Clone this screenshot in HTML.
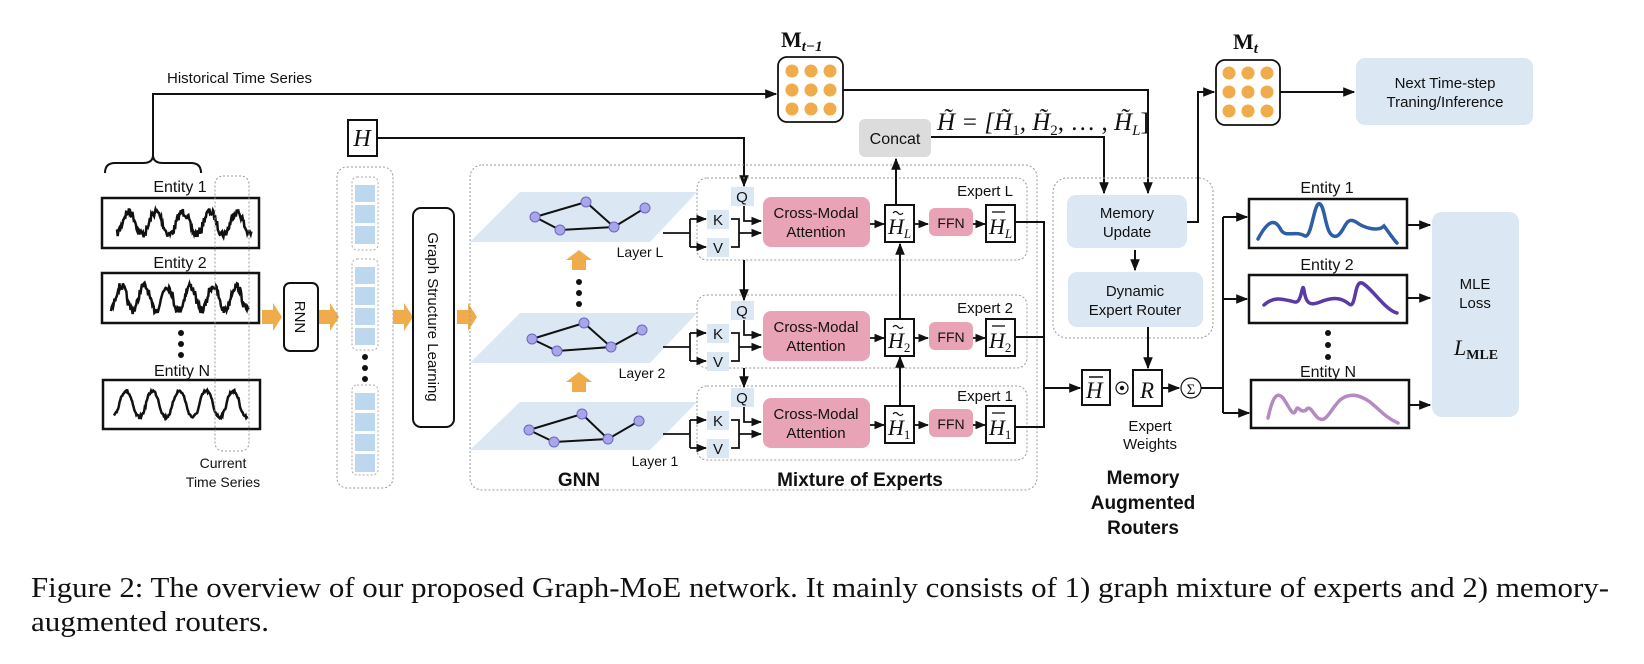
<!DOCTYPE html>
<html><head><meta charset="utf-8">
<style>
html,body{margin:0;padding:0;background:#fff;}
svg{display:block;}
text{font-family:"Liberation Sans","DejaVu Sans",sans-serif;fill:#111;}
.m{font-family:"Liberation Serif","DejaVu Serif",serif;font-style:italic;}
.b{font-weight:bold;}
</style></head><body>
<svg width="1644" height="664" viewBox="0 0 1644 664" xmlns="http://www.w3.org/2000/svg">
<defs>
<marker id="a" viewBox="0 0 10 10" refX="9" refY="5" markerWidth="6" markerHeight="6" orient="auto"><path d="M0,1 L10,5 L0,9 z" fill="#111"/></marker>
<g id="oarr"><path d="M0,-7 L11,-7 L11,-14 L20,0 L11,14 L11,7 L0,7 z" fill="#f0ab4a"/></g>
<g id="uarr"><path d="M-7,10 L-7,0 L-13,0 L0,-10 L13,0 L7,0 L7,10 z" fill="#f0ab4a"/></g>
<g id="dots9" fill="#f0ab4a">
<circle cx="14" cy="14" r="6.5"/><circle cx="33" cy="14" r="6.5"/><circle cx="52" cy="14" r="6.5"/>
<circle cx="14" cy="33" r="6.5"/><circle cx="33" cy="33" r="6.5"/><circle cx="52" cy="33" r="6.5"/>
<circle cx="14" cy="52" r="6.5"/><circle cx="33" cy="52" r="6.5"/><circle cx="52" cy="52" r="6.5"/>
</g>
</defs>

<g fill="none" stroke="#111" stroke-width="2">
<path d="M153,155 L153,94 L776,94" marker-end="url(#a)"/>
<path d="M105,173 Q105,163 115,163 L143,163 Q153,163 153,155 Q153,163 163,163 L191,163 Q201,163 201,173"/>
<path d="M377,138 L744,138 L744,186" marker-end="url(#a)"/>
<path d="M843,90 L1148,90 L1148,193" marker-end="url(#a)"/>
<path d="M931,137 L1104,137 L1104,193" marker-end="url(#a)"/>
<path d="M1187,222 L1198,222 L1198,92 L1214,92" marker-end="url(#a)"/>
<path d="M1280,92 L1354,92" marker-end="url(#a)"/>
<path d="M1135,250 L1135,270" marker-end="url(#a)"/>
<path d="M1148,327 L1148,368" marker-end="url(#a)"/>
</g>

<text x="167" y="83" font-size="15">Historical Time Series</text>

<text x="180" y="192" font-size="16" text-anchor="middle">Entity 1</text>
<rect x="102" y="198" width="157" height="50" fill="none" stroke="#111" stroke-width="2.5"/>
<text x="180" y="268" font-size="16" text-anchor="middle">Entity 2</text>
<rect x="102" y="273" width="157" height="50" fill="none" stroke="#111" stroke-width="2.5"/>
<g fill="#111"><circle cx="181" cy="333" r="3"/><circle cx="181" cy="344" r="3"/><circle cx="181" cy="355" r="3"/></g>
<text x="182" y="376" font-size="16" text-anchor="middle">Entity N</text>
<rect x="103" y="380" width="157" height="49" fill="none" stroke="#111" stroke-width="2.5"/>
<path id="w1" d="" fill="none" stroke="#111" stroke-width="2.5"/>
<path id="w2" d="" fill="none" stroke="#111" stroke-width="2.5"/>
<path id="w3" d="" fill="none" stroke="#111" stroke-width="2.5"/>
<rect x="215" y="176" width="34" height="275" rx="8" fill="none" stroke="#999" stroke-width="1" stroke-dasharray="2,2"/>
<text x="223" y="468" font-size="14" text-anchor="middle">Current</text>
<text x="223" y="487" font-size="14" text-anchor="middle">Time Series</text>

<use href="#oarr" x="262" y="317"/>
<rect x="284" y="283" width="34" height="68" rx="6" fill="#fff" stroke="#111" stroke-width="2"/>
<text transform="translate(295,317) rotate(90)" font-size="15" text-anchor="middle">RNN</text>
<use href="#oarr" x="319" y="317"/>

<rect x="348" y="120" width="29" height="36" fill="#fff" stroke="#111" stroke-width="2"/>
<text x="362" y="146" font-size="24" class="m" text-anchor="middle">H</text>

<rect x="337" y="167" width="56" height="321" rx="10" fill="none" stroke="#999" stroke-width="1" stroke-dasharray="2,2"/>
<rect x="352" y="177" width="26" height="73" rx="5" fill="none" stroke="#aaa" stroke-width="1" stroke-dasharray="2,2"/>
<rect x="352" y="259" width="26" height="91" rx="5" fill="none" stroke="#aaa" stroke-width="1" stroke-dasharray="2,2"/>
<rect x="352" y="385" width="26" height="90" rx="5" fill="none" stroke="#aaa" stroke-width="1" stroke-dasharray="2,2"/>
<g fill="#bdd7ee">
<rect x="355" y="185" width="20" height="17"/><rect x="355" y="205" width="20" height="18"/><rect x="355" y="226" width="20" height="18"/>
<rect x="355" y="267" width="20" height="17"/><rect x="355" y="287" width="20" height="18"/><rect x="355" y="308" width="20" height="17"/><rect x="355" y="328" width="20" height="17"/>
<rect x="355" y="393" width="20" height="17"/><rect x="355" y="413" width="20" height="18"/><rect x="355" y="434" width="20" height="17"/><rect x="355" y="454" width="20" height="18"/>
</g>
<g fill="#111"><circle cx="365" cy="357" r="3"/><circle cx="365" cy="368" r="3"/><circle cx="365" cy="379" r="3"/></g>

<use href="#oarr" x="393" y="317"/>
<rect x="413" y="208" width="41" height="219" rx="8" fill="#fff" stroke="#111" stroke-width="2"/>
<text transform="translate(428,317) rotate(90)" font-size="15" text-anchor="middle">Graph Structure Learning</text>
<use href="#oarr" x="457" y="317"/>

<rect x="470" y="165" width="567" height="325" rx="12" fill="none" stroke="#999" stroke-width="1" stroke-dasharray="2,2"/>

<g fill="#dbe7f3">
<path d="M470,242 L650,242 L697,192 L520,192 z"/>
<path d="M470,363 L650,363 L697,313 L520,313 z"/>
<path d="M470,450 L650,450 L697,402 L520,402 z"/>
</g>
<g stroke="#111" stroke-width="2" fill="none">
<path d="M535,217 L586,202 L614,227 L560,230 z M614,227 L645,208"/>
<path d="M532,339 L584,323 L611,347 L557,351 z M611,347 L642,330"/>
<path d="M529,430 L582,414 L608,439 L554,442 z M608,439 L639,421"/>
</g>
<g fill="#a9a6e8" stroke="#6b67c4" stroke-width="1">
<circle cx="535" cy="217" r="5"/><circle cx="586" cy="202" r="5"/><circle cx="560" cy="230" r="5"/><circle cx="614" cy="227" r="5"/><circle cx="645" cy="208" r="5"/>
<circle cx="532" cy="339" r="5"/><circle cx="584" cy="323" r="5"/><circle cx="557" cy="351" r="5"/><circle cx="611" cy="347" r="5"/><circle cx="642" cy="330" r="5"/>
<circle cx="529" cy="430" r="5"/><circle cx="582" cy="414" r="5"/><circle cx="554" cy="442" r="5"/><circle cx="608" cy="439" r="5"/><circle cx="639" cy="421" r="5"/>
</g>
<text x="640" y="257" font-size="14" text-anchor="middle">Layer L</text>
<text x="642" y="378" font-size="14" text-anchor="middle">Layer 2</text>
<text x="655" y="466" font-size="14" text-anchor="middle">Layer 1</text>
<use href="#uarr" x="579" y="260"/>
<use href="#uarr" x="579" y="382"/>
<g fill="#111"><circle cx="579" cy="282" r="3"/><circle cx="579" cy="293" r="3"/><circle cx="579" cy="304" r="3"/></g>
<text x="579" y="486" font-size="19" class="b" text-anchor="middle">GNN</text>
<text x="860" y="486" font-size="19" class="b" text-anchor="middle">Mixture of Experts</text>

<g fill="none" stroke="#999" stroke-width="1" stroke-dasharray="2,2">
<rect x="697" y="178" width="330" height="82" rx="10"/>
<rect x="697" y="295" width="330" height="73" rx="10"/>
<rect x="697" y="386" width="330" height="74" rx="10"/>
</g>
<text x="1013" y="196" font-size="15" text-anchor="end">Expert L</text>
<text x="1013" y="313" font-size="15" text-anchor="end">Expert 2</text>
<text x="1013" y="401" font-size="15" text-anchor="end">Expert 1</text>

<g id="row">
<rect x="731" y="187" width="23" height="19" fill="#dbe7f3"/>
<text x="742" y="202" font-size="15" text-anchor="middle">Q</text>
<rect x="707" y="210" width="22" height="19" fill="#dbe7f3"/>
<text x="718" y="225" font-size="15" text-anchor="middle">K</text>
<rect x="707" y="238" width="22" height="19" fill="#dbe7f3"/>
<text x="718" y="253" font-size="15" text-anchor="middle">V</text>
<g fill="none" stroke="#111" stroke-width="1.8">
<path d="M663,233 L690,233"/>
<path d="M690,219 L690,247"/>
<path d="M690,219 L706,219" marker-end="url(#a)"/>
<path d="M690,247 L706,247" marker-end="url(#a)"/>
<path d="M731,219 L739,219 L739,247 L731,247"/>
<path d="M739,233 L761,233" marker-end="url(#a)"/>
<path d="M744,206 L744,221 L761,221" marker-end="url(#a)"/>
<path d="M870,224 L884,224" marker-end="url(#a)"/>
<path d="M914,224 L928,224" marker-end="url(#a)"/>
<path d="M973,224 L985,224" marker-end="url(#a)"/>
</g>
<rect x="763" y="197" width="107" height="50" rx="8" fill="#e9a3b7"/>
<text x="816" y="218" font-size="15" text-anchor="middle">Cross-Modal</text>
<text x="816" y="237" font-size="15" text-anchor="middle">Attention</text>
<rect x="929" y="208" width="44" height="28" rx="6" fill="#e9a3b7"/>
<text x="951" y="228" font-size="14" text-anchor="middle">FFN</text>
<rect x="885" y="205" width="29" height="37" fill="#fff" stroke="#111" stroke-width="2"/>
<rect x="986" y="205" width="29" height="37" fill="#fff" stroke="#111" stroke-width="2"/>
</g>
<use href="#row" y="114"/>
<use href="#row" y="201"/>
<g font-size="22" class="m">
<text x="888" y="234" class="m">H<tspan font-size="13" dy="4">L</tspan></text>
<text x="888" y="348" class="m">H<tspan font-size="13" dy="4" font-style="normal">2</tspan></text>
<text x="888" y="435" class="m">H<tspan font-size="13" dy="4" font-style="normal">1</tspan></text>
<text x="989" y="234" class="m">H<tspan font-size="13" dy="4">L</tspan></text>
<text x="989" y="348" class="m">H<tspan font-size="13" dy="4" font-style="normal">2</tspan></text>
<text x="989" y="435" class="m">H<tspan font-size="13" dy="4" font-style="normal">1</tspan></text>
</g>
<g stroke="#111" stroke-width="1.3" fill="none">
<path d="M893,213 q2.5,-3 5,0 t5,0"/><path d="M893,327 q2.5,-3 5,0 t5,0"/><path d="M893,414 q2.5,-3 5,0 t5,0"/>
<path d="M992,212 h13"/><path d="M992,326 h13"/><path d="M992,413 h13"/>
</g>
<g fill="none" stroke="#111" stroke-width="2">
<path d="M744,260 L744,300" marker-end="url(#a)"/>
<path d="M744,368 L744,387" marker-end="url(#a)"/>
<path d="M900,406 L900,357" marker-end="url(#a)"/>
<path d="M900,318 L900,244" marker-end="url(#a)"/>
<path d="M896,205 L896,159" marker-end="url(#a)"/>
<path d="M1015,222 L1044,222 L1044,427 L1015,427 M1015,337 L1044,337"/>
<path d="M1044,388 L1080,388" marker-end="url(#a)"/>
</g>

<rect x="778" y="57" width="65" height="65" rx="9" fill="#fff" stroke="#111" stroke-width="1.8"/>
<use href="#dots9" x="778" y="57"/>
<text x="781" y="47" font-size="22" class="b" style="font-family:'Liberation Serif',serif">M<tspan font-size="15" class="m" dy="4">t−1</tspan></text>

<rect x="859" y="119" width="72" height="38" rx="6" fill="#dcdcdc"/>
<text x="895" y="144" font-size="16" text-anchor="middle">Concat</text>
<text x="937" y="130" font-size="25" class="m">H̃ = [H̃<tspan font-size="15" dy="5" font-style="normal">1</tspan><tspan dy="-5">, H̃</tspan><tspan font-size="15" dy="5" font-style="normal">2</tspan><tspan dy="-5" font-style="normal">, … , </tspan><tspan>H̃</tspan><tspan font-size="15" dy="5">L</tspan><tspan dy="-5" font-style="normal">]</tspan></text>

<rect x="1053" y="178" width="160" height="160" rx="14" fill="none" stroke="#999" stroke-width="1" stroke-dasharray="2,2"/>
<rect x="1067" y="195" width="120" height="53" rx="9" fill="#dbe7f3"/>
<text x="1127" y="218" font-size="15" text-anchor="middle">Memory</text>
<text x="1127" y="237" font-size="15" text-anchor="middle">Update</text>
<rect x="1068" y="272" width="135" height="55" rx="9" fill="#dbe7f3"/>
<text x="1135" y="296" font-size="15" text-anchor="middle">Dynamic</text>
<text x="1135" y="315" font-size="15" text-anchor="middle">Expert Router</text>

<rect x="1082" y="370" width="28" height="35" fill="#fff" stroke="#111" stroke-width="2"/>
<text x="1086" y="398" font-size="23" class="m">H</text>
<path d="M1089,377 h14" stroke="#111" stroke-width="1.5"/>
<circle cx="1122" cy="388" r="6" fill="none" stroke="#111" stroke-width="1.2"/><circle cx="1122" cy="388" r="2.2" fill="#111"/>
<rect x="1133" y="370" width="29" height="36" fill="#fff" stroke="#111" stroke-width="2"/>
<text x="1147" y="398" font-size="23" class="m" text-anchor="middle">R</text>
<path d="M1162,388 L1179,388" stroke="#111" stroke-width="2" marker-end="url(#a)"/>
<circle cx="1191" cy="388" r="10" fill="#fff" stroke="#111" stroke-width="1.2"/>
<text x="1191" y="394" font-size="15" text-anchor="middle" style="font-family:'Liberation Serif',serif">Σ</text>
<text x="1150" y="431" font-size="15" text-anchor="middle">Expert</text>
<text x="1150" y="449" font-size="15" text-anchor="middle">Weights</text>
<text x="1143" y="484" font-size="19" class="b" text-anchor="middle">Memory</text>
<text x="1143" y="509" font-size="19" class="b" text-anchor="middle">Augmented</text>
<text x="1143" y="534" font-size="19" class="b" text-anchor="middle">Routers</text>

<g fill="none" stroke="#111" stroke-width="2">
<path d="M1201,388 L1223,388 M1223,217 L1223,413"/>
<path d="M1223,217 L1247,217" marker-end="url(#a)"/>
<path d="M1223,299 L1247,299" marker-end="url(#a)"/>
<path d="M1223,413 L1249,413" marker-end="url(#a)"/>
<path d="M1407,225 L1430,225" marker-end="url(#a)"/>
<path d="M1407,298 L1430,298" marker-end="url(#a)"/>
<path d="M1409,405 L1430,405" marker-end="url(#a)"/>
</g>

<rect x="1216" y="60" width="64" height="65" rx="9" fill="#fff" stroke="#111" stroke-width="1.8"/>
<use href="#dots9" x="1215" y="59"/>
<text x="1233" y="49" font-size="22" class="b" style="font-family:'Liberation Serif',serif">M<tspan font-size="15" class="m" dy="4">t</tspan></text>
<rect x="1356" y="58" width="177" height="67" rx="9" fill="#dbe7f3"/>
<text x="1445" y="88" font-size="15" text-anchor="middle">Next Time-step</text>
<text x="1445" y="107" font-size="15" text-anchor="middle">Traning/Inference</text>

<text x="1327" y="193" font-size="16" text-anchor="middle">Entity 1</text>
<rect x="1249" y="199" width="158" height="49" fill="none" stroke="#111" stroke-width="2.5"/>
<path d="M1258,239 C1268,220 1275,218 1281,230 C1286,238 1295,230 1305,236 C1312,238 1314,200 1320,204 C1326,208 1325,240 1337,236 C1345,232 1345,215 1356,222 C1364,228 1378,232 1384,226 C1390,234 1394,240 1397,243" fill="none" stroke="#2d5ea6" stroke-width="3.5" stroke-linecap="round"/>
<text x="1327" y="270" font-size="16" text-anchor="middle">Entity 2</text>
<rect x="1249" y="275" width="158" height="48" fill="none" stroke="#111" stroke-width="2.5"/>
<path d="M1264,305 C1275,295 1285,300 1295,302 C1302,304 1302,280 1304,290 C1306,304 1310,306 1320,302 C1330,298 1340,296 1349,304 C1356,310 1354,280 1362,283 C1372,288 1385,310 1397,313" fill="none" stroke="#5a3aa6" stroke-width="3.5" stroke-linecap="round"/>
<g fill="#111"><circle cx="1328" cy="333" r="3"/><circle cx="1328" cy="345" r="3"/><circle cx="1328" cy="357" r="3"/></g>
<text x="1328" y="377" font-size="16" text-anchor="middle">Entity N</text>
<rect x="1251" y="380" width="158" height="48" fill="none" stroke="#111" stroke-width="2.5"/>
<path d="M1268,418 C1272,400 1276,390 1283,398 C1290,408 1293,418 1296,410 C1298,404 1300,414 1306,410 C1310,404 1313,414 1318,418 C1326,424 1330,410 1340,400 C1350,392 1360,395 1370,402 C1380,410 1386,418 1398,423" fill="none" stroke="#b58ac0" stroke-width="3.5" stroke-linecap="round"/>

<rect x="1432" y="212" width="87" height="205" rx="10" fill="#dbe7f3"/>
<text x="1475" y="289" font-size="15" text-anchor="middle">MLE</text>
<text x="1475" y="308" font-size="15" text-anchor="middle">Loss</text>
<text x="1454" y="355" font-size="22" class="m">L<tspan font-size="14" font-style="normal" font-weight="bold" dy="4">MLE</tspan></text>

<text x="31" y="597" font-size="28" style="font-family:'Liberation Serif',serif" textLength="1578" lengthAdjust="spacingAndGlyphs">Figure 2: The overview of our proposed Graph-MoE network. It mainly consists of 1) graph mixture of experts and 2) memory-</text>
<text x="31" y="631" font-size="28" style="font-family:'Liberation Serif',serif" textLength="238" lengthAdjust="spacingAndGlyphs">augmented routers.</text>
</svg>
<script>
(function(){
 var s=7;function r(){s=(s*16807)%2147483647;return s/2147483647-0.5;}
 function w(id,x0,x1,cy,amp,per,noise){
  var d='';for(var x=x0;x<=x1;x+=0.7){
   var t=(x-x0)/(x1-x0)*per*2*Math.PI;
   var v=Math.sin(t-1.2)*amp;
   v=Math.sign(v)*Math.pow(Math.abs(v)/amp,0.8)*amp;
   var y=cy-v+r()*noise;
   d+=(d?'L':'M')+x.toFixed(1)+','+y.toFixed(1);}
  document.getElementById(id).setAttribute('d',d);}
 w('w1',117,252,223,11,5,8);
 w('w2',111,249,298,12,6,8);
 w('w3',114,248,404,13,5,3);
})();
</script>
</body></html>
